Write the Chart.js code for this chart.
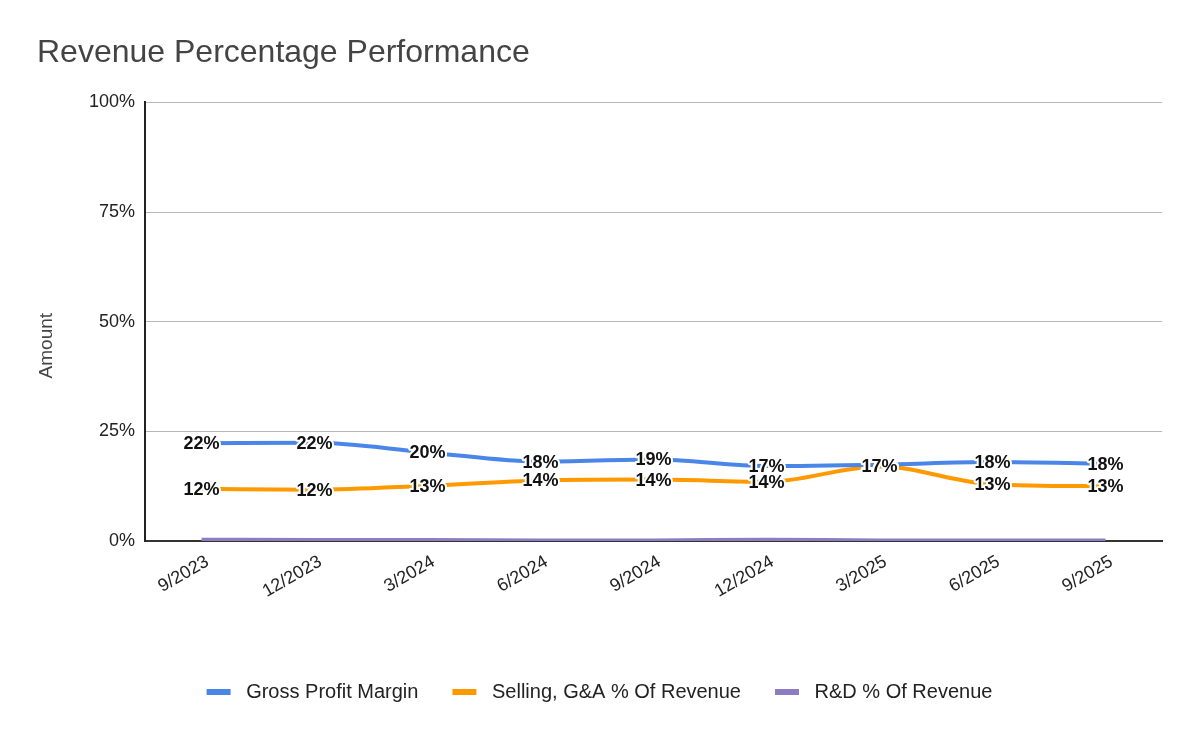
<!DOCTYPE html>
<html>
<head>
<meta charset="utf-8">
<title>Revenue Percentage Performance</title>
<script src="https://cdn.jsdelivr.net/npm/chart.js@4.4.1/dist/chart.umd.min.js"></script>
<style>
  html, body { margin: 0; padding: 0; background: #fff; }
  #chart { display: block; }
</style>
</head>
<body>
<canvas id="chart" width="1200" height="741"></canvas>
<script>
// Chart data
const categories = ["9/2023", "12/2023", "3/2024", "6/2024", "9/2024", "12/2024", "3/2025", "6/2025", "9/2025"];
const grossMargin = [22.3, 22.4, 20.2, 18.1, 18.6, 17.1, 17.4, 18.0, 17.6];
const sgaPct = [11.9, 11.7, 12.6, 13.8, 14.0, 13.5, 17.0, 12.9, 12.5];
const rdPct = [0.3, 0.2, 0.2, 0.1, 0.1, 0.3, 0.1, 0.1, 0.1];
const seriesNames = ["Gross Profit Margin", "Selling, G&A % Of Revenue", "R&D % Of Revenue"];
const yTicks = [0, 25, 50, 75, 100];
const yTitle = "Amount";
const labeledSeries = [0, 1];

Chart.defaults.font.family = '"Liberation Sans", Arial, sans-serif';

// Value labels with a white halo, centred on each point
const pointLabels = {
  id: "pointLabels",
  afterDatasetsDraw(chart) {
    const ctx = chart.ctx;
    ctx.save();
    ctx.font = 'bold 18px "Liberation Sans", Arial, sans-serif';
    ctx.textAlign = "center";
    ctx.textBaseline = "middle";
    ctx.lineJoin = "round";
    labeledSeries.forEach((i) => {
      const meta = chart.getDatasetMeta(i);
      const data = chart.data.datasets[i].data;
      meta.data.forEach((pt, j) => {
        const text = Math.round(data[j]) + "%";
        ctx.lineWidth = 4;
        ctx.strokeStyle = "#fff";
        ctx.strokeText(text, pt.x, pt.y + 1);
        ctx.fillStyle = "#111";
        ctx.fillText(text, pt.x, pt.y + 1);
      });
    });
    ctx.restore();
  }
};

// Y axis title, sitting a little below the middle of the plot like the original
const axisTitle = {
  id: "axisTitle",
  afterDraw(chart) {
    const ctx = chart.ctx;
    const area = chart.chartArea;
    ctx.save();
    ctx.translate(chart.scales.y.left + 10, (area.top + area.bottom) / 2 + 24);
    ctx.rotate(-Math.PI / 2);
    ctx.font = '19px "Liberation Sans", Arial, sans-serif';
    ctx.fillStyle = "#444";
    ctx.textAlign = "center";
    ctx.textBaseline = "middle";
    ctx.fillText(yTitle, 0, 0);
    ctx.restore();
  }
};

const lineStyle = {
  borderWidth: 4,
  pointRadius: 0,
  pointHoverRadius: 0,
  cubicInterpolationMode: "monotone",
  fill: false
};

new Chart(document.getElementById("chart"), {
  type: "line",
  data: {
    labels: categories,
    datasets: [
      { label: seriesNames[0], data: grossMargin, borderColor: "#4a86e8", backgroundColor: "#4a86e8", ...lineStyle },
      { label: seriesNames[1], data: sgaPct, borderColor: "#ff9900", backgroundColor: "#ff9900", ...lineStyle },
      { label: seriesNames[2], data: rdPct, borderColor: "#8e7cc3", backgroundColor: "#8e7cc3", ...lineStyle }
    ]
  },
  options: {
    responsive: false,
    animation: false,
    layout: {
      padding: { left: 37, right: 38, top: 0, bottom: 29 }
    },
    plugins: {
      title: {
        display: true,
        text: "Revenue Percentage Performance",
        align: "start",
        color: "#444",
        font: { size: 32, weight: "normal" },
        padding: { top: 34, bottom: 30 }
      },
      legend: {
        position: "bottom",
        labels: {
          color: "#222",
          font: { size: 20 },
          boxWidth: 24,
          boxHeight: 6,
          padding: 34,
          generateLabels(chart) {
            return chart.data.datasets.map((ds, i) => ({
              text: " " + ds.label,
              fillStyle: ds.borderColor,
              strokeStyle: ds.borderColor,
              lineWidth: 0,
              fontColor: "#222",
              datasetIndex: i,
              hidden: false
            }));
          }
        }
      },
      tooltip: { enabled: false }
    },
    scales: {
      x: {
        offset: true,
        grid: { display: false },
        border: { display: true, color: "#333", width: 2 },
        ticks: {
          color: "#222",
          font: { size: 18 },
          minRotation: 30,
          maxRotation: 30,
          autoSkip: false,
          padding: 2,
          labelOffset: 6
        },
        afterFit(scale) {
          scale.height = 107;
        }
      },
      y: {
        min: 0,
        max: 100,
        afterBuildTicks(scale) {
          scale.ticks = yTicks.map((v) => ({ value: v }));
        },
        grid: {
          color: (c) => (c.tick && c.tick.value === 0 ? "rgba(0,0,0,0)" : "#b7b7b7"),
          lineWidth: 1,
          drawTicks: false
        },
        border: { display: true, color: "#222", width: 2 },
        ticks: {
          color: "#222",
          font: { size: 18 },
          padding: 10,
          callback: (v) => v + "%"
        },
        afterFit(scale) {
          scale.width = 108;
        }
      }
    }
  },
  plugins: [pointLabels, axisTitle]
});
</script>
</body>
</html>
